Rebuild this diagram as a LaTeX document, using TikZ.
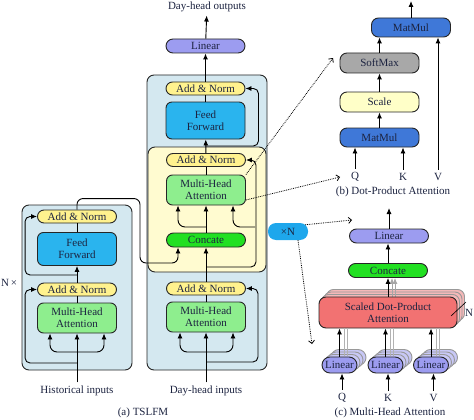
\documentclass[tikz,border=0pt]{standalone}
\usepackage{fontspec}
\setmainfont{Liberation Serif}
\usetikzlibrary{calc,arrows.meta,positioning}

\definecolor{boxblue}{HTML}{D4E8F0}
\definecolor{boxyellow}{HTML}{FFFBD0}
\definecolor{anyellow}{HTML}{FFF28E}
\definecolor{ffblue}{HTML}{2AB4EE}
\definecolor{mhagreen}{HTML}{8EEE8E}
\definecolor{catgreen}{HTML}{22E022}
\definecolor{linpurple}{HTML}{9C9CF0}
\definecolor{mmblue}{HTML}{3F78D8}
\definecolor{smgray}{HTML}{A8A8A8}
\definecolor{scyellow}{HTML}{FFFFC8}
\definecolor{sdpared}{HTML}{F27272}
\definecolor{sdpashade}{HTML}{F5B8B8}
\definecolor{linshade}{HTML}{C8C8F6}
\definecolor{xncyan}{HTML}{1EA7EC}
\definecolor{textcol}{HTML}{1C2340}

\begin{document}
\begin{tikzpicture}[x=1pt,y=-1pt,
    every node/.style={font=\fontsize{11}{12}\selectfont,text=textcol},
    blk/.style={draw=black!85,line width=0.9pt,rounded corners=6pt,
      minimum width=79pt,align=center,inner sep=1pt},
    container/.style={draw=black!85,fill=boxblue,line width=0.9pt,
      rounded corners=7pt},
    addnorm/.style={blk,fill=anyellow,minimum height=13pt,rounded corners=6.5pt},
    feedfwd/.style={blk,fill=ffblue,minimum height=37pt},
    mhatt/.style={blk,fill=mhagreen,minimum height=30pt},
    concate/.style={blk,fill=catgreen,minimum height=14pt,rounded corners=7pt},
    linear/.style={blk,fill=linpurple,minimum height=14pt,rounded corners=7pt},
    smalllin/.style={blk,fill=linpurple,minimum width=35pt,minimum height=16pt,
      rounded corners=8pt},
    dpbox/.style={blk,minimum height=19pt,rounded corners=7pt},
    arr/.style={-{Latex[length=6pt,width=5pt]},line width=0.9pt},
    ln/.style={line width=0.9pt},
    dots/.style={densely dotted,line width=0.8pt,
      -{Straight Barb[length=3pt,width=6pt]}}]

    \useasboundingbox (0,0) rectangle (474,420);

    % (a) encoder
    \node[container,minimum width=110pt,minimum height=165pt] (encbox) at (77,287.5) {};
    \node[addnorm] (encAN2) at (77,216.5) {Add \& Norm};
    \node[feedfwd,minimum height=33pt] (encFF) at (77,249) {Feed\\Forward};
    \node[addnorm] (encAN1) at (77,289.5) {Add \& Norm};
    \node[mhatt] (encMHA) at (77,318) {Multi-Head\\Attention};
    \node (histin) at (77,391) {Historical inputs};
    \node (encN) at (9,283) {N\,×};

    \coordinate (encSplit) at (77,352);
    \coordinate (encRes1) at (77,363);
    \coordinate (encRes2) at (77,275);
    \draw[arr] (histin) -- (encMHA);
    \draw[arr,rounded corners=7pt] (encSplit) -| ($(encMHA.south)+(-27,0)$);
    \draw[arr,rounded corners=7pt] (encSplit) -| ($(encMHA.south)+(27,0)$);
    \draw[arr,rounded corners=5pt] (encRes1) -| ($(encAN1.west)+(-12,0)$) -- (encAN1.west);
    \draw[ln] (encMHA) -- (encAN1);
    \draw[arr] (encAN1) -- (encFF);
    \draw[arr,rounded corners=5pt] (encRes2) -| ($(encAN2.west)+(-12,0)$) -- (encAN2.west);
    \draw[ln] (encFF) -- (encAN2);

    % (a) decoder
    \node[container,minimum width=120pt,minimum height=295pt] (decbox) at (207,222.5) {};
    \node[container,fill=boxyellow,minimum width=118pt,minimum height=125pt] (fusebox) at (207,209.5) {};
    \node[linear] (outLin) at (205.5,46) {Linear};
    \node (dayout) at (207,7) {Day-head outputs};
    \node[addnorm] (decAN3) at (205.5,88.5) {Add \& Norm};
    \node[feedfwd] (decFF) at (205.5,120.5) {Feed\\Forward};
    \node[addnorm] (decAN2) at (206,160) {Add \& Norm};
    \node[mhatt] (decMHA2) at (206,190) {Multi-Head\\Attention};
    \node[concate] (decCat) at (206,240) {Concate};
    \node[addnorm] (decAN1) at (206,288.5) {Add \& Norm};
    \node[mhatt] (decMHA1) at (206,317) {Multi-Head\\Attention};
    \node (dayin) at (206,391) {Day-head inputs};
    \node (capA) at (143,413) {(a) TSLFM};

    \coordinate (decSplit1) at (206,352);
    \coordinate (decRes1) at (206,362);
    \coordinate (decRes2) at (206,267);
    \coordinate (decSplit2) at (206,227);
    \coordinate (decRight) at (255,227);
    \coordinate (decRes3) at (205.5,146);
    \draw[arr] (dayin) -- (decMHA1);
    \draw[arr,rounded corners=7pt] (decSplit1) -| ($(decMHA1.south)+(-26,0)$);
    \draw[arr,rounded corners=7pt] (decSplit1) -| ($(decMHA1.south)+(27,0)$);
    \draw[arr,rounded corners=5pt] (decRes1) -| ($(decAN1.east)+(12,0)$) -- (decAN1.east);
    \draw[ln] (decMHA1) -- (decAN1);
    \draw[arr] (decAN1) -- (decCat);
    \draw[arr,rounded corners=5pt] (decRes2) -| ($(decAN2.east)+(10,0)$) -- (decAN2.east);
    \draw[arr] (decCat) -- (decMHA2);
    \draw[arr,rounded corners=7pt] (decSplit2) -| ($(decMHA2.south)+(-28,0)$);
    \draw[arr,rounded corners=7pt] (decRight) -| ($(decMHA2.south)+(27,0)$);
    \draw[ln] (decMHA2) -- (decAN2);
    \draw[arr] (decAN2) -- (decFF);
    \draw[arr,rounded corners=5pt] (decRes3) -| ($(decAN3.east)+(13,0)$) -- (decAN3.east);
    \draw[ln] (decFF) -- (decAN3);
    \draw[arr] (decAN3) -- (outLin);
    \draw[arr] (outLin) -- (dayout);

    % encoder output into the fusion block
    \draw[arr,rounded corners=6pt] (encAN2.north) -- ++(0,-11) -| (140,263)
      -| ($(decCat.south)+(-28,0)$);

    % (b) dot-product attention
    \node[dpbox,fill=mmblue] (dpMM2) at (411,27.5) {MatMul};
    \node[dpbox,fill=smgray,minimum height=20pt] (dpSoft) at (379.5,63) {SoftMax};
    \node[dpbox,fill=scyellow,minimum height=20pt] (dpScale) at (379.5,102) {Scale};
    \node[dpbox,fill=mmblue] (dpMM1) at (379.5,137.5) {MatMul};
    \node (dpQ) at (355,177) {Q};
    \node (dpK) at (403,177) {K};
    \node (dpV) at (438,177) {V};
    \node (capB) at (393,192) {(b) Dot-Product Attention};
    \coordinate (dpTop) at (411,1);
    \draw[arr] (dpQ) -- (dpQ |- dpMM1.south);
    \draw[arr] (dpK) -- (dpK |- dpMM1.south);
    \draw[arr] (dpV) -- (dpV |- dpMM2.south);
    \draw[arr] (dpMM1) -- (dpScale);
    \draw[arr] (dpScale) -- (dpSoft);
    \draw[arr] (dpSoft) -- (dpSoft |- dpMM2.south);
    \draw[arr] (dpMM2) -- (dpTop);

    % (c) multi-head attention
    \node[linear] (mhLin) at (389,236) {Linear};
    \node[concate] (mhCat) at (388,270.5) {Concate};
    \coordinate (mhTop) at (389,208);
    \draw[arr] (mhLin) -- (mhTop);
    \draw[arr] (mhCat) -- (mhCat |- mhLin.south);
    \foreach \d in {3,2,1}
      \node[blk,fill=sdpashade,draw=black!40,minimum width=138pt,minimum height=31pt,
        rounded corners=7pt] (sdpa\d) at ($(388,312.5)+(2.5*\d,-2.5*\d)$) {};
    \foreach \o in {7,4}
      \draw[arr,draw=black!35,fill=black!35] ($(388,297)+(\o,0)$) -- ($(mhCat.south)+(\o,0)$);
    \node[blk,fill=sdpared,minimum width=138pt,minimum height=31pt,rounded corners=7pt]
      (mhSDPA) at (388,312.5) {Scaled Dot-Product\\Attention};
    \draw[arr] (mhSDPA.north -| mhCat) -- (mhCat);
    \node (mhN) at (469,313) {N};
    \draw[line width=0.6pt] (451,316) -- (466,302);

    \foreach \x/\q [count=\i] in {339.5/Q,385.5/K,431/V} {
      \foreach \d in {3,2,1}
        \node[smalllin,fill=linshade,draw=black!40] (mhLin\i s\d) at ($(\x,365)+(3*\d,-2.5*\d)$) {};
      \foreach \o in {8,5}
        \draw[ln,draw=black!30] ($(\x,356)+(\o,0)$) -- ($(\x,328)+(\o,0)$);
      \node[smalllin] (mhLin\i) at (\x,365) {Linear};
      \node (mhIn\i) at ($(\x,398)+(2.5,0)$) {\q};
      \draw[arr] (mhIn\i) -- (mhIn\i |- mhLin\i.south);
      \draw[arr] (mhLin\i) -- (mhLin\i |- mhSDPA.south);
    }
    \node (capC) at (390,413) {(c) Multi-Head Attention};

    % repetition marker and dotted links
    \node[fill=xncyan,rounded corners=8pt,minimum width=40pt,minimum height=17pt] (xn) at (288,231.5) {×N};
    \coordinate (xnTip1) at (352,220);
    \coordinate (xnTip2) at (312,344);
    \coordinate (dpTip1) at (333,58);
    \coordinate (dpTip2) at (340,177);
    \draw[dots] ($(xn.north east)+(-3,2)$) -- (xnTip1);
    \draw[dots] ($(xn.south)+(10,0)$) -- (xnTip2);
    \draw[dots] (decMHA2.north east) -- (dpTip1);
    \draw[dots] ($(decMHA2.east)+(0,10)$) -- (dpTip2);
  \end{tikzpicture}
\end{document}
